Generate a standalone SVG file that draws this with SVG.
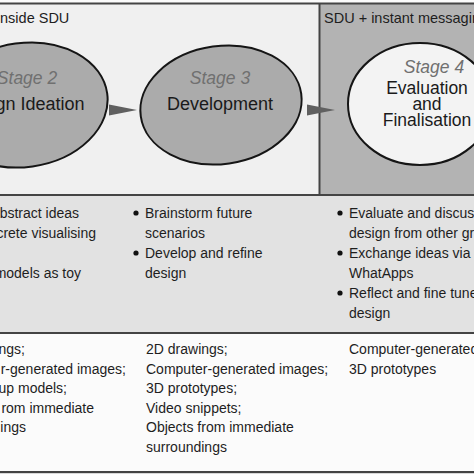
<svg xmlns="http://www.w3.org/2000/svg" width="474" height="474" viewBox="0 0 474 474">
<style>
.t{font-family:"Liberation Sans",Arial,sans-serif;font-size:14px;fill:#1e1e1e}
.h{font-family:"Liberation Sans",Arial,sans-serif;font-size:14.5px;fill:#1e1e1e}
.st{font-family:"Liberation Sans",Arial,sans-serif;font-size:17.5px;font-style:italic;fill:#707070;text-anchor:middle}
.nm{font-family:"Liberation Sans",Arial,sans-serif;font-size:18px;fill:#1a1a1a;text-anchor:middle}
.nm4{font-family:"Liberation Sans",Arial,sans-serif;font-size:17.5px;fill:#1a1a1a;text-anchor:middle}
.e{stroke:#151515;stroke-width:2}
.ln{stroke:#444;stroke-width:2;fill:none}
.arr{fill:#606060}
</style>
<g id="background">
<rect x="0" y="0" width="474" height="474" fill="#fbfbfb"/>
<rect x="0" y="3" width="320" height="192" fill="#f0f0f0"/>
<rect x="320" y="3" width="154" height="192" fill="#b3b3b3"/>
<rect x="0" y="196" width="474" height="137" fill="#e2e2e2"/>
<rect x="0" y="473" width="474" height="1" fill="#d8d8d8"/>
<line class="ln" x1="0" y1="3.5" x2="474" y2="3.5"/>
<line class="ln" x1="319.5" y1="3" x2="319.5" y2="195"/>
<line class="ln" x1="0" y1="195" x2="474" y2="195"/>
<line class="ln" x1="0" y1="333" x2="474" y2="333"/>
<line class="ln" x1="0" y1="472" x2="474" y2="472"/>
<text class="h" x="-4" y="23">Inside SDU</text>
<text class="h" x="324" y="23">SDU + instant messaging</text>
</g>
<g id="stage2">
<ellipse class="e" cx="24" cy="105" rx="84" ry="62" fill="#ababab" transform="rotate(-8 24 105)"/>
<text class="st" x="27" y="84">Stage 2</text>
<text class="nm" x="22" y="110">Design Ideation</text>
</g>
<g id="stage3">
<ellipse class="e" cx="221" cy="105" rx="81" ry="59" fill="#ababab" transform="rotate(-8 221 105)"/>
<text class="st" x="220" y="84">Stage 3</text>
<text class="nm" x="220" y="110">Development</text>
</g>
<g id="stage4">
<ellipse class="e" cx="420" cy="104" rx="72" ry="61" fill="#f3f3f3"/>
<text class="st" x="434" y="73">Stage 4</text>
<text class="nm4" x="427" y="94">Evaluation</text>
<text class="nm4" x="427" y="110">and</text>
<text class="nm4" x="427" y="126">Finalisation</text>
</g>
<g id="connectors">
<path class="arr" d="M109 104.5 L137 110 L109 115.5 Z"/>
<path class="arr" d="M307 104.5 L335 110 L307 115.5 Z"/>
</g>
<g id="activities">
<text class="t" x="79" y="218" text-anchor="end">bstract ideas</text>
<text class="t" x="96" y="238" text-anchor="end">crete visualising</text>
<text class="t" x="81" y="278" text-anchor="end">models as toy</text>
<circle cx="136" cy="213" r="2.6" fill="#111"/>
<text class="t" x="145" y="218">Brainstorm future</text>
<text class="t" x="145" y="238">scenarios</text>
<circle cx="136" cy="253" r="2.6" fill="#111"/>
<text class="t" x="145" y="258">Develop and refine</text>
<text class="t" x="145" y="278">design</text>
<circle cx="340" cy="213" r="2.6" fill="#111"/>
<text class="t" x="349" y="218">Evaluate and discuss</text>
<text class="t" x="349" y="238">design from other groups</text>
<circle cx="340" cy="253" r="2.6" fill="#111"/>
<text class="t" x="349" y="258">Exchange ideas via</text>
<text class="t" x="349" y="278">WhatApps</text>
<circle cx="340" cy="293" r="2.6" fill="#111"/>
<text class="t" x="349" y="298">Reflect and fine tune</text>
<text class="t" x="349" y="318">design</text>
</g>
<g id="outputs">
<text class="t" x="25" y="354" text-anchor="end">ngs;</text>
<text class="t" x="126" y="374" text-anchor="end">r-generated images;</text>
<text class="t" x="67" y="393" text-anchor="end">up models;</text>
<text class="t" x="94" y="413" text-anchor="end">rom immediate</text>
<text class="t" x="26" y="432" text-anchor="end">ings</text>
<text class="t" x="146" y="354">2D drawings;</text>
<text class="t" x="146" y="374">Computer-generated images;</text>
<text class="t" x="146" y="393">3D prototypes;</text>
<text class="t" x="146" y="413">Video snippets;</text>
<text class="t" x="146" y="432">Objects from immediate</text>
<text class="t" x="146" y="452">surroundings</text>
<text class="t" x="349" y="354">Computer-generated</text>
<text class="t" x="349" y="374">3D prototypes</text>
</g>
</svg>
